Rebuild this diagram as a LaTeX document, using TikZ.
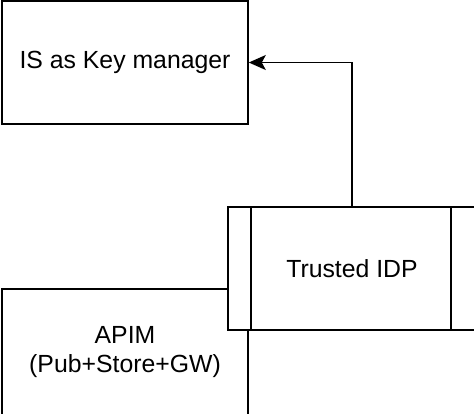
\documentclass[tikz,border=0pt]{standalone}
\usepackage{fontspec}
\setmainfont{Liberation Sans}
\usepackage{tikz}
\usetikzlibrary{positioning,arrows.meta}

\begin{document}
\begin{tikzpicture}[
  x=1pt, y=-1pt,
  font=\fontsize{24.8}{29}\selectfont,
  box/.style={
    rectangle, draw=black, fill=white, line width=1.6pt,
    minimum width=246pt, minimum height=123pt,
    inner sep=0pt, align=center
  },
  arr/.style={-{Stealth[length=17pt, width=15pt, inset=4pt]}, line width=1.6pt, black}
]
\useasboundingbox (0,0) rectangle (474,413);

% --- Three blocks ---
\node[box, minimum height=127pt] (apim) at (125,352.5) {APIM\\(Pub+Store+GW)};
\node[box, minimum width=248pt]  (idp)  at (352,268.5) {Trusted IDP};
\node[box] (is) at (125,62.5) {IS as Key manager};

% --- Side bars of the process block ---
\draw[line width=1.6pt] ([xshift=24pt]idp.north west) -- ([xshift=24pt]idp.south west);
\draw[line width=1.6pt] ([xshift=-26pt]idp.north east) -- ([xshift=-26pt]idp.south east);

% --- Connection ---
\draw[arr] (idp.north) |- (is.east);

\end{tikzpicture}
\end{document}
